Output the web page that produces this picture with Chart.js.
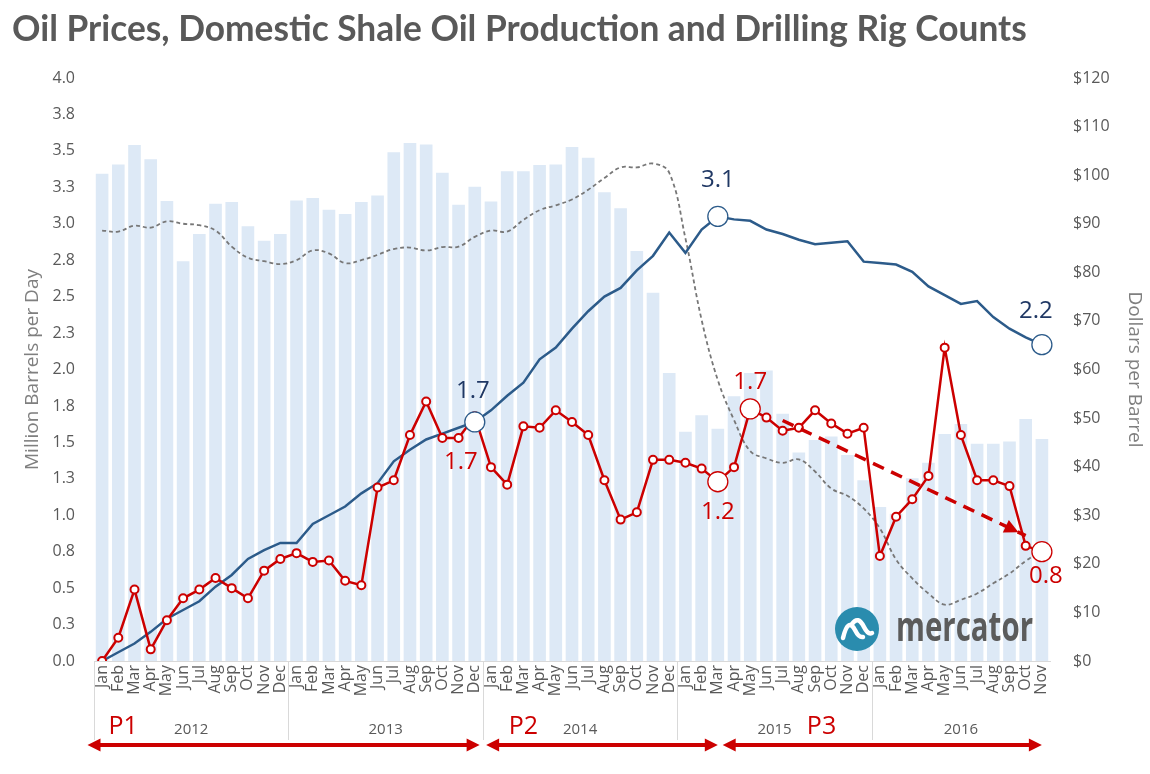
<!DOCTYPE html>
<html>
<head>
<meta charset="utf-8">
<script src="https://cdn.jsdelivr.net/npm/chart.js@4.4.1/dist/chart.umd.min.js"></script>
<style>
  body { margin: 0; background: #fff; }
  #wrap { position: relative; width: 1150px; height: 774px; }
  #title { position: absolute; left: 12px; top: 6px; font: bold 31px Lato, "Open Sans", sans-serif; color: #595959; white-space: nowrap; }
  canvas { position: absolute; left: 0; top: 0; }
</style>
</head>
<body>
<div id="wrap">
  <canvas id="myChart" width="1150" height="774"></canvas>
  <div id="title">Oil Prices, Domestic Shale Oil Production and Drilling Rig Counts</div>
</div>
<script>
// categories
var years = ['2012', '2013', '2014', '2015', '2016']
var months = ['Jan','Feb','Mar','Apr','May','Jun','Jul','Aug','Sep','Oct','Nov','Dec']
var lastYearMonths = 11   // 2016 stops at Nov

// WTI price, $ per barrel (bars, right axis)
var oilPrice = [
  100.3, 102.2, 106.2, 103.3, 94.7, 82.3, 87.9, 94.1, 94.5, 89.5, 86.5, 87.9,
  94.8, 95.3, 92.9, 92.0, 94.5, 95.8, 104.7, 106.6, 106.3, 100.5, 93.9, 97.6,
  94.6, 100.8, 100.8, 102.1, 102.2, 105.8, 103.6, 96.5, 93.2, 84.4, 75.8, 59.3,
  47.2, 50.6, 47.8, 54.5, 59.3, 59.8, 50.9, 42.9, 45.5, 46.2, 42.4, 37.2,
  31.7, 30.3, 37.6, 40.8, 46.7, 48.8, 44.7, 44.7, 45.2, 49.8, 45.7
]

// rig count, drawn against the right axis (dashed grey)
var rigCount = [
  88.6, 88.4, 89.6, 89.2, 90.5, 90.0, 89.7, 88.6, 85.3, 83.0, 82.3, 81.7,
  82.5, 84.5, 83.9, 81.9, 82.5, 83.6, 84.8, 85.1, 84.5, 85.2, 85.3, 87.3,
  88.6, 88.4, 90.8, 92.8, 93.8, 95.0, 97.0, 99.4, 101.6, 101.6, 102.4, 100.5,
  87.0, 70.2, 57.8, 49.6, 43.2, 41.7, 40.8, 41.5, 39.0, 35.5, 34.0, 31.4,
  27.3, 20.9, 17.0, 13.9, 11.6, 12.6, 13.9, 16.0, 18.0, 20.6, 22.8
]

// shale oil production, million barrels per day (blue line, left axis)
var shaleProd = [
  0.00, 0.06, 0.12, 0.20, 0.29, 0.35, 0.41, 0.51, 0.59, 0.70, 0.76, 0.81,
  0.81, 0.94, 1.00, 1.06, 1.15, 1.22, 1.37, 1.45, 1.52, 1.56, 1.60, 1.64,
  1.72, 1.82, 1.91, 2.07, 2.15, 2.28, 2.40, 2.50, 2.56, 2.68, 2.78, 2.94,
  2.80, 2.96, 3.05, 3.03, 3.02, 2.96, 2.93, 2.89, 2.86, 2.87, 2.88, 2.74,
  2.73, 2.72, 2.67, 2.57, 2.51, 2.45, 2.47, 2.36, 2.28, 2.22, 2.17
]

// red series, left axis
var redSeries = [
  0.00, 0.16, 0.49, 0.08, 0.28, 0.43, 0.49, 0.57, 0.50, 0.43, 0.62, 0.70,
  0.74, 0.68, 0.69, 0.55, 0.52, 1.19, 1.24, 1.55, 1.78, 1.53, 1.53, 1.68,
  1.33, 1.21, 1.61, 1.60, 1.72, 1.64, 1.55, 1.24, 0.97, 1.02, 1.38, 1.38,
  1.36, 1.32, 1.23, 1.33, 1.73, 1.67, 1.58, 1.60, 1.72, 1.63, 1.56, 1.60,
  0.72, 0.99, 1.11, 1.27, 2.15, 1.55, 1.24, 1.24, 1.20, 0.79, 0.75
]

// trend arrow: Jul 2015 -> Oct 2016
var trendFrom = { index: 42, value: 1.65 }
var trendTo = { index: 57, value: 0.86 }

// highlighted points with value labels
var callouts = [
  { series: 'prod', index: 23, text: '1.7', dx: -2, dy: -31 },
  { series: 'red', index: 23, text: '1.7', dx: -14, dy: 46, noCircle: true },
  { series: 'prod', index: 38, text: '3.1', dx: 0, dy: -36 },
  { series: 'prod', index: 58, text: '2.2', dx: -6, dy: -34 },
  { series: 'red', index: 38, text: '1.2', dx: 0, dy: 30 },
  { series: 'red', index: 40, text: '1.7', dx: 0, dy: -27 },
  { series: 'red', index: 58, text: '0.8', dx: 4, dy: 24 }
]

// periods under the axis (category index ranges)
var periods = [
  { label: 'P1', labelAt: 1.3, from: -0.9, to: 23.3 },
  { label: 'P2', labelAt: 26, from: 23.7, to: 38.0 },
  { label: 'P3', labelAt: 44.4, from: 38.3, to: 58.0 }
]

var labels = []
for (var y = 0; y < years.length; y++) {
  var n = (y === years.length - 1) ? lastYearMonths : 12
  for (var m = 0; m < n; m++) labels.push(months[m] + ' ' + years[y])
}

var BLUE = '#2c5b8a', RED = '#cc0000', GREY_TXT = '#595959'
var FONT = '"Open Sans", sans-serif'

// fit the title to the reference width
var t = document.getElementById('title')
t.style.fontSize = (31 * 1015 / t.getBoundingClientRect().width) + 'px'

function catX(scale, i) {
  var lo = Math.floor(i), f = i - lo
  var a = scale.getPixelForValue(lo)
  var step = scale.getPixelForValue(1) - scale.getPixelForValue(0)
  return a + f * step
}

var extras = {
  id: 'extras',
  afterDatasetsDraw: function(chart) {
    var c = chart.ctx, x = chart.scales.x, yl = chart.scales.y
    // trend arrow head
    var x1 = x.getPixelForValue(trendFrom.index), y1 = yl.getPixelForValue(trendFrom.value)
    var x2 = x.getPixelForValue(trendTo.index), y2 = yl.getPixelForValue(trendTo.value)
    var ang = Math.atan2(y2 - y1, x2 - x1)
    var tx = x2 - 8 * Math.cos(ang), ty = y2 - 8 * Math.sin(ang)
    c.save()
    c.fillStyle = RED
    c.beginPath()
    c.moveTo(tx, ty)
    c.lineTo(tx - 14 * Math.cos(ang) + 7 * Math.sin(ang), ty - 14 * Math.sin(ang) - 7 * Math.cos(ang))
    c.lineTo(tx - 14 * Math.cos(ang) - 7 * Math.sin(ang), ty - 14 * Math.sin(ang) + 7 * Math.cos(ang))
    c.closePath()
    c.fill()

    // callout circles and labels
    callouts.forEach(function(o) {
      var val = o.series === 'prod' ? shaleProd[o.index] : redSeries[o.index]
      var col = o.series === 'prod' ? BLUE : RED
      var px = x.getPixelForValue(o.index), py = yl.getPixelForValue(val)
      if (!o.noCircle) {
        c.beginPath()
        c.arc(px, py, 10, 0, Math.PI * 2)
        c.fillStyle = '#fff'
        c.fill()
        c.lineWidth = 1.3
        c.strokeStyle = col
        c.stroke()
      }
      c.fillStyle = o.series === 'prod' ? '#203864' : RED
      c.font = '24px ' + FONT
      c.textAlign = 'center'
      c.textBaseline = 'middle'
      c.fillText(o.text, px + o.dx, py + o.dy)
    })

    // mercator logo
    var lx = 857, ly = 629
    c.beginPath()
    c.arc(lx, ly, 22, 0, Math.PI * 2)
    c.fillStyle = '#2a8cae'
    c.fill()
    c.strokeStyle = '#fff'
    c.lineWidth = 4.5
    c.lineCap = 'round'
    c.beginPath()
    c.moveTo(lx - 14, ly + 9)
    c.quadraticCurveTo(lx - 9, ly - 12, lx - 2, ly + 1)
    c.quadraticCurveTo(lx + 2, ly + 9, lx + 6, ly + 8)
    c.stroke()
    c.beginPath()
    c.moveTo(lx - 5, ly - 5)
    c.quadraticCurveTo(lx + 1, ly - 14, lx + 7, ly - 2)
    c.quadraticCurveTo(lx + 11, ly + 6, lx + 15, ly + 4)
    c.stroke()
    c.fillStyle = '#5b5b5b'
    c.font = 'bold 42px ' + FONT
    c.textAlign = 'left'
    c.textBaseline = 'alphabetic'
    var w = c.measureText('mercator').width
    c.translate(896, 641)
    c.scale(137 / w, 1)
    c.fillText('mercator', 0, 0)
    c.restore()
  },
  afterDraw: function(chart) {
    var c = chart.ctx, x = chart.scales.x, area = chart.chartArea
    c.save()
    // year dividers and labels
    c.strokeStyle = '#d9d9d9'
    c.lineWidth = 1
    c.fillStyle = GREY_TXT
    c.font = '15px ' + FONT
    c.textAlign = 'center'
    c.textBaseline = 'middle'
    var start = 0
    for (var y = 0; y < years.length; y++) {
      var n = (y === years.length - 1) ? lastYearMonths : 12
      var left = catX(x, start - 0.5), right = catX(x, start + n - 0.5)
      c.beginPath()
      c.moveTo(Math.round(left) + 0.5, area.bottom)
      c.lineTo(Math.round(left) + 0.5, 740)
      c.stroke()
      c.fillText(years[y], (left + right) / 2, 730)
      start += n
    }
    // period arrows
    c.fillStyle = RED
    c.strokeStyle = RED
    periods.forEach(function(p) {
      var a = catX(x, p.from), b = catX(x, p.to), yy = 745
      c.lineWidth = 4
      c.beginPath()
      c.moveTo(a + 10, yy)
      c.lineTo(b - 10, yy)
      c.stroke()
      c.beginPath()
      c.moveTo(a, yy); c.lineTo(a + 13, yy - 6.5); c.lineTo(a + 13, yy + 6.5); c.closePath(); c.fill()
      c.beginPath()
      c.moveTo(b, yy); c.lineTo(b - 13, yy - 6.5); c.lineTo(b - 13, yy + 6.5); c.closePath(); c.fill()
      c.font = '25px ' + FONT
      c.fillText(p.label, catX(x, p.labelAt), 727)
    })
    c.restore()
  }
}

var myChart = document.getElementById('myChart').getContext('2d')

var chart = new Chart(myChart, {
  data: {
    labels: labels,
    datasets: [
      {
        type: 'line', label: 'Trend', data: labels.map(function(l, i) {
          return i === trendFrom.index ? trendFrom.value : (i === trendTo.index ? trendTo.value : null)
        }),
        yAxisID: 'y', spanGaps: true, borderColor: RED, borderWidth: 3.5,
        borderDash: [12, 8], pointRadius: 0, order: 1
      },
      {
        type: 'line', label: 'Red', data: redSeries, yAxisID: 'y',
        borderColor: RED, borderWidth: 2.5, pointRadius: 4, pointBorderWidth: 2,
        pointBackgroundColor: '#fff', pointBorderColor: RED, tension: 0, order: 2
      },
      {
        type: 'line', label: 'Shale Oil Production', data: shaleProd, yAxisID: 'y',
        borderColor: BLUE, borderWidth: 2.5, pointRadius: 0, tension: 0, order: 3
      },
      {
        type: 'line', label: 'Rig Count', data: rigCount, yAxisID: 'y1',
        borderColor: '#777', borderWidth: 1.8, borderDash: [4, 3], pointRadius: 0,
        tension: 0.4, order: 4
      },
      {
        type: 'bar', label: 'Oil Price', data: oilPrice, yAxisID: 'y1',
        backgroundColor: '#dde9f6', barPercentage: 0.78, categoryPercentage: 1, order: 10
      }
    ]
  },
  options: {
    responsive: false,
    animation: false,
    layout: { padding: { top: 78, left: 0, right: 0, bottom: 0 } },
    plugins: { legend: { display: false }, tooltip: { enabled: false } },
    scales: {
      x: {
        offset: true,
        grid: { display: false, drawTicks: false },
        border: { color: '#d9d9d9' },
        ticks: {
          autoSkip: false, minRotation: 90, maxRotation: 90, padding: 4,
          color: GREY_TXT, font: { family: FONT, size: 16 },
          callback: function(v) { return labels[v].split(' ')[0] }
        },
        afterFit: function(s) { s.height = 113 }
      },
      y: {
        position: 'left', min: 0, max: 4,
        grid: { display: false, drawTicks: false },
        border: { display: false },
        ticks: {
          stepSize: 0.25, padding: 19, color: GREY_TXT,
          font: { family: FONT, size: 16 },
          callback: function(v) { return v.toFixed(1) }
        },
        title: {
          display: true, text: 'Million Barrels per Day', color: '#7f7f7f',
          font: { family: FONT, size: 19 }, padding: { top: 21, bottom: 0 }
        },
        afterFit: function(s) { s.width = 94 }
      },
      y1: {
        position: 'right', min: 0, max: 120,
        grid: { display: false, drawTicks: false },
        border: { display: false },
        ticks: {
          stepSize: 10, padding: 23, color: GREY_TXT,
          font: { family: FONT, size: 16 },
          callback: function(v) { return '$' + v }
        },
        title: {
          display: true, text: 'Dollars per Barrel', color: '#7f7f7f',
          font: { family: FONT, size: 19 }, padding: { top: 4, bottom: 0 }
        },
        afterFit: function(s) { s.width = 100 }
      }
    }
  },
  plugins: [extras]
})
</script>
</body>
</html>
